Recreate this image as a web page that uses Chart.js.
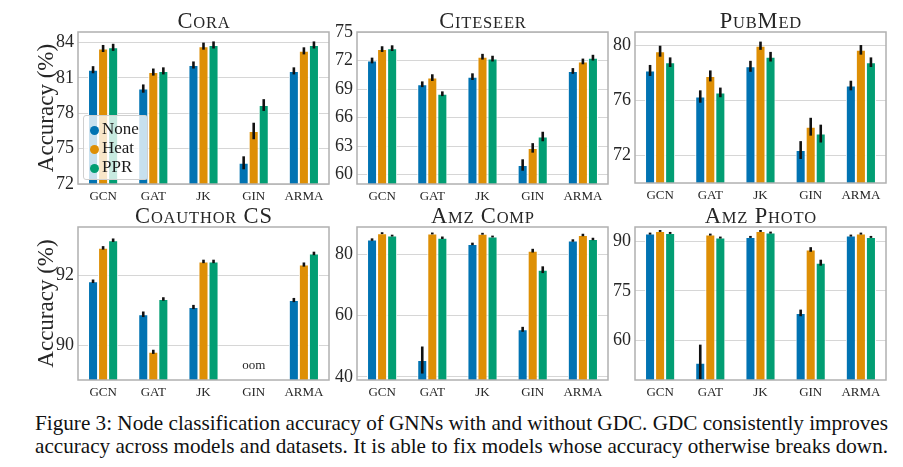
<!DOCTYPE html>
<html>
<head>
<meta charset="utf-8">
<script src="https://cdn.jsdelivr.net/npm/chart.js@4.4.0/dist/chart.umd.min.js"></script>
<style>
  body { margin: 0; background: #fff; width: 903px; height: 467px; overflow: hidden; position: relative; font-family: "Liberation Serif", serif; }
  canvas { position: absolute; }
  .legend { position: absolute; left: 83px; top: 115px; width: 65px; height: 65px; background: rgba(255,255,255,0.78); border: 1px solid #cfcfcf; border-radius: 3px; box-sizing: border-box; padding-top: 3px; }
  .legend .row { height: 19px; line-height: 19px; font-size: 17px; color: #1a1a1a; white-space: nowrap; }
  .legend .dot { display: inline-block; width: 9px; height: 9px; border-radius: 50%; margin: 0 3px 0 6px; vertical-align: -1px; }
  .cap { position: absolute; left: 35px; font-size: 22px; line-height: 22px; white-space: nowrap; color: #111; transform-origin: 0 0; }
</style>
</head>
<body>

<script>
// categories and series
const models = ['GCN', 'GAT', 'JK', 'GIN', 'ARMA'];
const methods = ['None', 'Heat', 'PPR'];
const colors = ['#0173b2', '#de8f05', '#029e73'];

// Cora
const coraNone = [81.7, 80.1, 82.1, 73.8, 81.6];
const coraHeat = [83.5, 81.5, 83.7, 76.5, 83.3];
const coraPPR  = [83.6, 81.6, 83.8, 78.7, 83.8];
const coraErrNone = [0.3, 0.35, 0.3, 0.55, 0.3];
const coraErrHeat = [0.3, 0.3, 0.3, 0.7, 0.3];
const coraErrPPR  = [0.3, 0.3, 0.3, 0.5, 0.3];
const coraTicks = [72, 75, 78, 81, 84];

// Citeseer
const citeNone = [72.0, 69.5, 70.3, 61.0, 70.9];
const citeHeat = [73.2, 70.2, 72.4, 62.8, 71.9];
const citePPR  = [73.3, 68.5, 72.2, 64.0, 72.3];
const citeErrNone = [0.3, 0.3, 0.35, 0.6, 0.3];
const citeErrHeat = [0.3, 0.35, 0.3, 0.5, 0.3];
const citeErrPPR  = [0.3, 0.25, 0.3, 0.5, 0.3];
const citeTicks = [60, 63, 66, 69, 72, 75];

// PubMed
const pubNone = [78.2, 76.3, 78.5, 72.4, 77.1];
const pubHeat = [79.6, 77.8, 80.0, 74.1, 79.7];
const pubPPR  = [78.8, 76.6, 79.2, 73.6, 78.8];
const pubErrNone = [0.4, 0.45, 0.4, 0.65, 0.35];
const pubErrHeat = [0.4, 0.4, 0.3, 0.65, 0.35];
const pubErrPPR  = [0.35, 0.35, 0.35, 0.65, 0.35];
const pubTicks = [72, 76, 80];

// Coauthor CS (GIN ran out of memory)
const csNone = [91.84, 90.89, 91.1, null, 91.3];
const csHeat = [92.8, 89.81, 92.41, null, 92.32];
const csPPR  = [93.02, 91.33, 92.41, null, 92.64];
const csErrNone = [0.05, 0.08, 0.06, null, 0.06];
const csErrHeat = [0.05, 0.06, 0.05, null, 0.06];
const csErrPPR  = [0.05, 0.05, 0.05, null, 0.05];
const csTicks = [90, 92];

// Amazon Computers
const compNone = [84.7, 45.5, 83.3, 55.5, 84.4];
const compHeat = [86.8, 86.7, 86.6, 81.1, 86.2];
const compPPR  = [86.0, 85.3, 85.7, 74.9, 84.9];
const compErrNone = [0.4, 4.4, 0.4, 0.8, 0.4];
const compErrHeat = [0.3, 0.3, 0.3, 0.6, 0.4];
const compErrPPR  = [0.3, 0.4, 0.3, 1.1, 0.4];
const compTicks = [40, 60, 80];

// Amazon Photo
const photoNone = [92.3, 53.2, 91.3, 68.3, 91.7];
const photoHeat = [93.1, 92.0, 93.1, 87.5, 92.3];
const photoPPR  = [92.5, 91.1, 92.6, 83.5, 91.3];
const photoErrNone = [0.3, 5.5, 0.3, 1.0, 0.3];
const photoErrHeat = [0.3, 0.3, 0.3, 0.7, 0.3];
const photoErrPPR  = [0.3, 0.3, 0.3, 0.9, 0.3];
const photoTicks = [60, 75, 90];

const captionLines = [
  'Figure 3: Node classification accuracy of GNNs with and without GDC. GDC consistently improves',
  'accuracy across models and datasets. It is able to fix models whose accuracy otherwise breaks down.'
];

const FONT = '"Liberation Serif", "Times New Roman", serif';
const INK = '#262626';

const panels = [
  { title: 'Cora', vals: [coraNone, coraHeat, coraPPR], errs: [coraErrNone, coraErrHeat, coraErrPPR], ticks: coraTicks, min: 72, max: 84.9,
    left: 0, top: 0, w: 335, axisW: 78, plotBottom: 184, yTitle: true },
  { title: 'Citeseer', vals: [citeNone, citeHeat, citePPR], errs: [citeErrNone, citeErrHeat, citeErrPPR], ticks: citeTicks, min: 59, max: 75,
    left: 330, top: 0, w: 284, axisW: 27, plotBottom: 184 },
  { title: 'PubMed', vals: [pubNone, pubHeat, pubPPR], errs: [pubErrNone, pubErrHeat, pubErrPPR], ticks: pubTicks, min: 70, max: 81,
    left: 608, top: 0, w: 285, axisW: 27, plotBottom: 183 },
  { title: 'Coauthor CS', vals: [csNone, csHeat, csPPR], errs: [csErrNone, csErrHeat, csErrPPR], ticks: csTicks, min: 89, max: 93.4,
    left: 0, top: 195, w: 335, axisW: 78, plotBottom: 185, yTitle: true, oom: 3 },
  { title: 'Amz Comp', vals: [compNone, compHeat, compPPR], errs: [compErrNone, compErrHeat, compErrPPR], ticks: compTicks, min: 39, max: 88.8,
    left: 330, top: 195, w: 284, axisW: 27, plotBottom: 185 },
  { title: 'Amz Photo', vals: [photoNone, photoHeat, photoPPR], errs: [photoErrNone, photoErrHeat, photoErrPPR], ticks: photoTicks, min: 48, max: 94.3,
    left: 608, top: 195, w: 285, axisW: 27, plotBottom: 185 }
];

const CANVAS_H = 205;

// black error bars, drawn through the y scale
const errorBars = {
  id: 'errorBars',
  afterDatasetsDraw(chart, args, opts) {
    const ctx = chart.ctx, y = chart.scales.y, a = chart.chartArea;
    ctx.save();
    ctx.beginPath();
    ctx.rect(a.left, a.top, a.right - a.left, a.bottom - a.top);
    ctx.clip();
    ctx.strokeStyle = '#111';
    ctx.lineWidth = 2.6;
    chart.data.datasets.forEach((ds, i) => {
      const meta = chart.getDatasetMeta(i);
      meta.data.forEach((bar, j) => {
        const v = ds.data[j], e = ds.errs[j];
        if (v == null || e == null) return;
        ctx.beginPath();
        ctx.moveTo(bar.x, y.getPixelForValue(v - e));
        ctx.lineTo(bar.x, y.getPixelForValue(v + e));
        ctx.stroke();
      });
    });
    ctx.restore();
  }
};

// small-caps title: capitals full size, lower case as smaller capitals
function drawSmallCaps(ctx, text, cx, baseline) {
  const big = '22.5px ' + FONT, small = '16.5px ' + FONT, gap = 0.8;
  const parts = [];
  for (const ch of text) {
    const low = ch !== ch.toUpperCase();
    parts.push({ t: ch.toUpperCase(), f: low ? small : big });
  }
  let total = 0;
  parts.forEach(p => { ctx.font = p.f; p.w = ctx.measureText(p.t).width + gap; total += p.w; });
  total -= gap;
  let x = cx - total / 2;
  ctx.textAlign = 'left';
  ctx.textBaseline = 'alphabetic';
  parts.forEach(p => { ctx.font = p.f; ctx.fillText(p.t, x, baseline); x += p.w; });
}

// grey frame around the axes area, the panel title and the "oom" note
const frame = {
  id: 'frame',
  afterDraw(chart, args, opts) {
    const ctx = chart.ctx, a = chart.chartArea;
    ctx.save();
    ctx.strokeStyle = '#b0b0b0';
    ctx.lineWidth = 1.5;
    ctx.strokeRect(a.left, a.top, a.right - a.left, a.bottom - a.top);
    ctx.fillStyle = INK;
    drawSmallCaps(ctx, opts.title, (a.left + a.right) / 2, a.top - 4);
    if (opts.oom != null) {
      ctx.font = '13px ' + FONT;
      ctx.textAlign = 'center';
      ctx.textBaseline = 'middle';
      ctx.fillText('oom', chart.scales.x.getPixelForValue(opts.oom), a.bottom - 14);
    }
    ctx.restore();
  }
};

panels.forEach(p => {
  const cv = document.createElement('canvas');
  cv.width = p.w;
  cv.height = CANVAS_H;
  cv.style.left = p.left + 'px';
  cv.style.top = p.top + 'px';
  document.body.appendChild(cv);

  new Chart(cv.getContext('2d'), {
    type: 'bar',
    data: {
      labels: models,
      datasets: methods.map((m, i) => ({
        label: m,
        data: p.vals[i],
        errs: p.errs[i],
        backgroundColor: colors[i],
        borderColor: '#ffffff',
        borderWidth: 1,
        categoryPercentage: 0.6,
        barPercentage: 1.0
      }))
    },
    options: {
      responsive: false,
      animation: false,
      devicePixelRatio: 1,
      layout: { padding: { left: 0, top: 32, right: p.w - p.axisW - 251, bottom: 0 } },
      plugins: {
        legend: { display: false },
        tooltip: { enabled: false },
        title: { display: false },
        frame: { oom: p.oom, title: p.title }
      },
      scales: {
        x: {
          grid: { display: false, drawTicks: false },
          border: { display: false },
          ticks: { color: INK, font: { family: FONT, size: 13 }, padding: 5 },
          afterFit: s => { s.height = CANVAS_H - p.plotBottom; }
        },
        y: {
          min: p.min,
          max: p.max,
          afterBuildTicks: s => { s.ticks = p.ticks.map(v => ({ value: v })); },
          grid: { color: '#d6d6d6', lineWidth: 1, drawTicks: false },
          border: { display: false },
          ticks: { color: INK, font: { family: FONT, size: 18 }, padding: 4 },
          title: {
            display: !!p.yTitle,
            text: 'Accuracy (%)',
            color: INK,
            font: { family: FONT, size: 23 },
            padding: { top: 33, bottom: 0 }
          },
          afterFit: s => { s.width = p.axisW; }
        }
      }
    },
    plugins: [errorBars, frame]
  });
});

// legend inside the Cora panel
const lg = document.createElement('div');
lg.className = 'legend';
methods.forEach((m, i) => {
  const row = document.createElement('div');
  row.className = 'row';
  row.innerHTML = '<span class="dot" style="background:' + colors[i] + '"></span>' + m;
  lg.appendChild(row);
});
document.body.appendChild(lg);

// caption, each line stretched to the text width
captionLines.forEach((t, i) => {
  const d = document.createElement('div');
  d.className = 'cap';
  d.style.top = (412 + i * 23) + 'px';
  d.textContent = t;
  document.body.appendChild(d);
  const w = d.getBoundingClientRect().width;
  d.style.transform = 'scaleX(' + (853 / w) + ')';
});
</script>
</body>
</html>
